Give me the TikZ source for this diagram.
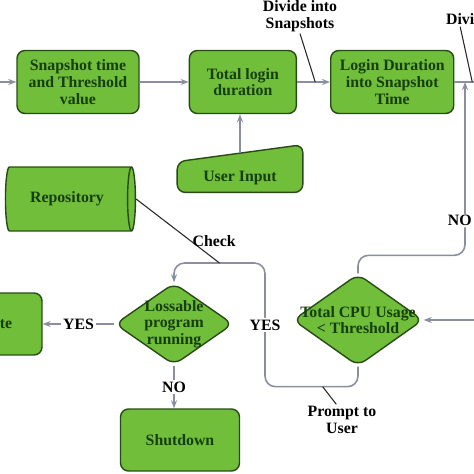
\documentclass[tikz,border=0pt]{standalone}
\usepackage{fontspec}
\setmainfont{Liberation Serif}
\usetikzlibrary{arrows.meta, positioning, shapes.geometric, calc, backgrounds}
\definecolor{VertFond}{RGB}{112,190,58}
\definecolor{VertBord}{RGB}{40,75,22}
\definecolor{VertTexte}{RGB}{22,62,12}
\definecolor{GrisFleche}{RGB}{138,142,160}
\tikzset{procbox/.style={rectangle, rounded corners=4.5pt,
  draw=VertBord, fill=VertFond, line width=0.8pt, text=VertTexte,
  align=center, minimum height=1.26cm, inner sep=1pt,
  font=\fontsize{9}{9.5}\selectfont\bfseries}}
\tikzset{decision/.style={procbox, diamond, rounded corners=5pt, aspect=1.4,
  inner xsep=-0.3cm, inner ysep=-0.25cm}}
\tikzset{lbl/.style={font=\fontsize{9}{9.5}\selectfont\bfseries, align=center, inner sep=1pt}}
\tikzset{onl/.style={lbl, fill=white}}
\tikzset{fl/.style={-{Stealth[length=1.6mm]}, draw=GrisFleche, line width=0.9pt}}
\tikzset{trait/.style={draw=GrisFleche, line width=0.9pt}}
\tikzset{pinline/.style={draw=black!85, line width=0.6pt}}

\begin{document}
\begin{tikzpicture}[x=0.02cm, y=-0.02cm]
\useasboundingbox (0,0) rectangle (474,474);
% top row
\node[procbox, minimum width=2.44cm] (snap) at (78,82) {Snapshot time\\and Threshold\\value};
\node[procbox, minimum width=2.14cm, right=0.98cm of snap] (total) {Total login\\duration};
\node[procbox, minimum width=2.46cm, right=0.66cm of total] (login) {Login Duration\\into Snapshot\\Time};
\node[lbl] (div1) at (300,16) {Divide into\\Snapshots};
\node[lbl, anchor=west] (div2) at (444,19) {Divi};
% user input (slanted top)
\node[lbl, text=VertTexte, minimum width=2.5cm, minimum height=0.56cm] (user) at (240,178) {User Input};
\coordinate (uiA) at ([yshift=0.04cm]user.north west);
\coordinate (uiB) at ([yshift=0.38cm]user.north east);
\coordinate (uiTop) at ($(uiA)!0.5!(uiB)$);
\begin{pgfonlayer}{background}
\draw[draw=VertBord, fill=VertFond, line width=0.8pt, rounded corners=4.5pt]
  (user.south west) -- (uiA) -- (uiB) -- (user.south east) -- cycle;
\end{pgfonlayer}
% repository
\node[cylinder, draw=VertBord, line width=0.8pt, cylinder uses custom fill,
  cylinder body fill=VertFond, cylinder end fill=VertFond, aspect=0.3,
  minimum width=1.28cm, minimum height=2.6cm, text=VertTexte,
  font=\fontsize{9}{9.5}\selectfont\bfseries] (repo) at (67,199) {Repository};
% decisions
\node[decision, minimum width=2.6cm, minimum height=1.84cm] (cpu) at (358,320) {Total CPU Usage\\< Threshold};
\node[decision, minimum width=2.36cm, minimum height=1.64cm] (loss) at (174,324) {Lossable\\program\\running};
\node[procbox, minimum width=1.44cm, minimum height=1.24cm] (term) at (6,324) {te};
\node[procbox, minimum width=2.38cm, minimum height=1.24cm] (shut) at (180,440) {Shutdown};
\node[lbl] (prompt) at (342,420) {Prompt to\\User};
% connectors
\coordinate (inL) at (0,82);
\coordinate (outR) at (474,82);
\coordinate (inR) at (474,320);
\coordinate (jn) at (465,82);
\coordinate (bend) at (265,263);
\draw[fl] (inL) -- (snap);
\draw[fl] (snap) -- (total);
\draw[fl] (total) -- (login) coordinate[pos=0.55] (d1);
\draw[trait] (login) -- (outR) coordinate[pos=0.91] (d2);
\draw[fl] (uiTop) -- (uiTop |- total.south);
\draw[fl, rounded corners=6pt] (cpu.north) -- ++(0,-18) -| (jn) node[onl, pos=0.6, xshift=-3pt] {NO};
\draw[fl] (inR) -- (cpu.east);
\draw[fl, rounded corners=6pt] (cpu.south) -- ++(0,20)
  -| (bend) node[onl, pos=0.75] {YES} coordinate[pos=0.19] (pp)
  -| (loss.north) coordinate[pos=0.25] (ck);
\draw[fl] (loss.west) -- (term.east) node[onl, midway] {YES};
\draw[fl] (loss.south) -- (loss.south |- shut.north) node[onl, midway] {NO};
\draw[pinline] (div1.south) -- (d1);
\draw[pinline] (div2.south) -- (d2);
\draw[pinline] (pp) -- (prompt.110);
\draw[pinline] (repo.east) -- (ck) node[lbl, pos=0.65, anchor=west] {Check};
\end{tikzpicture}
\end{document}
